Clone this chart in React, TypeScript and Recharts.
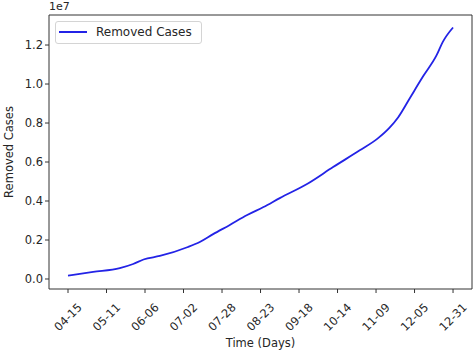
import { Label, Line, LineChart, XAxis, YAxis } from "recharts";

// days since 04-15 and removed cases
const days = [0, 17, 35, 44, 51, 62, 81, 89, 98, 109, 121, 132, 143, 162, 179, 197, 209, 217, 223, 231, 240, 249, 253, 260];
const removed = [
  170000, 360000, 560000, 770000, 1000000, 1180000, 1640000, 1900000, 2300000, 2760000, 3280000, 3690000,
  4150000, 4900000, 5740000, 6600000, 7200000, 7750000, 8300000, 9300000, 10420000, 11490000, 12150000, 12900000,
];
const tickDays = [0, 26, 52, 78, 104, 130, 156, 182, 208, 234, 260];
const tickLabels = ["04-15", "05-11", "06-06", "07-02", "07-28", "08-23", "09-18", "10-14", "11-09", "12-05", "12-31"];
const yTicks = [0, 2000000, 4000000, 6000000, 8000000, 10000000, 12000000];

const data = days.map((d, i) => ({ day: d, removed: removed[i] }));

const FONT = "DejaVu Sans";
const INK = "#262626";
const SPINE = "#333";
const LINE = "#2323e6";

const XTick = ({ x, y, payload }) => {
  const idx = tickDays.indexOf(payload.value);
  return (
    <g transform={`translate(${x},${y + 22}) rotate(-45)`}>
      <text textAnchor="middle" dy="0.35em" fontSize={11.5} fontFamily={FONT} fill={INK}>
        {idx >= 0 ? tickLabels[idx] : payload.value}
      </text>
    </g>
  );
};

export default function App() {
  return (
    <div style={{ position: "absolute", left: 0, top: 0, width: 474, height: 351, background: "#fff" }}>
      <LineChart width={474} height={351} data={data} margin={{ top: 0, right: 0, bottom: 0, left: 0 }}>
        <XAxis
          dataKey="day"
          type="number"
          domain={[-12.83, 272.8]}
          ticks={tickDays}
          allowDataOverflow
          height={62}
          tick={<XTick />}
          tickSize={4}
          tickLine={{ stroke: SPINE }}
          axisLine={{ stroke: SPINE }}
          interval={0}
        >
          <Label
            content={({ viewBox }) => (
              <text
                x={viewBox.x + viewBox.width / 2}
                y={347}
                textAnchor="middle"
                fontSize={11.5}
                fontFamily={FONT}
                fill={INK}
              >
                Time (Days)
              </text>
            )}
          />
        </XAxis>
        <XAxis xAxisId="top" orientation="top" type="number" domain={[0, 1]} height={15} tick={false} tickLine={false} axisLine={{ stroke: SPINE }} />
        <YAxis
          type="number"
          domain={[-513000, 13540000]}
          ticks={yTicks}
          allowDataOverflow
          width={49}
          tickSize={4}
          tickLine={{ stroke: SPINE }}
          axisLine={{ stroke: SPINE }}
          tick={{ fontSize: 11.5, fontFamily: FONT, fill: INK }}
          tickFormatter={(v) => (v / 1e7).toFixed(1)}
        >
          <Label
            content={({ viewBox }) => (
              <text
                transform={`translate(9,${viewBox.y + viewBox.height / 2}) rotate(-90)`}
                textAnchor="middle"
                dy="0.35em"
                fontSize={11.5}
                fontFamily={FONT}
                fill={INK}
              >
                Removed Cases
              </text>
            )}
          />
          <Label
            content={({ viewBox }) => (
              <text x={viewBox.x + viewBox.width} y={10} fontSize={11} fontFamily={FONT} fill={INK}>
                1e7
              </text>
            )}
          />
        </YAxis>
        <YAxis yAxisId="right" orientation="right" width={2} domain={[0, 1]} tick={false} tickLine={false} axisLine={{ stroke: SPINE }} />
        <Line
          type="monotone"
          dataKey="removed"
          stroke={LINE}
          strokeWidth={1.8}
          dot={false}
          isAnimationActive={false}
        />
      </LineChart>
      <div
        style={{
          position: "absolute",
          left: 55,
          top: 21,
          width: 147,
          height: 23,
          boxSizing: "border-box",
          border: "1px solid #d4d4d4",
          borderRadius: 3,
          background: "rgba(255,255,255,0.8)",
          fontFamily: FONT,
          fontSize: 12,
          color: INK,
        }}
      >
        <div style={{ position: "absolute", left: 3, top: 9, width: 28, height: 2, background: LINE }} />
        <div style={{ position: "absolute", left: 40, top: 3, lineHeight: "15px", whiteSpace: "nowrap" }}>Removed Cases</div>
      </div>
    </div>
  );
}
